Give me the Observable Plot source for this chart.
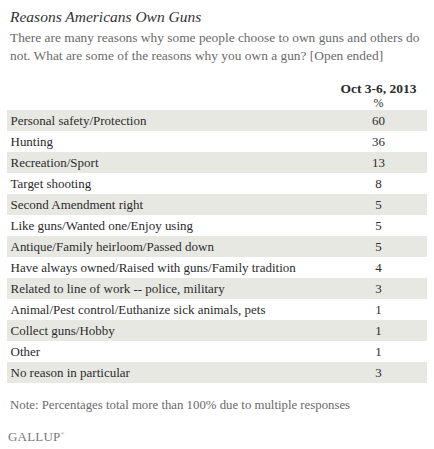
<!DOCTYPE html>
<html>
<head>
<meta charset="utf-8">
<script src="https://cdn.jsdelivr.net/npm/d3@7"></script>
<script src="https://cdn.jsdelivr.net/npm/@observablehq/plot@0.6"></script>
<style>
  body { margin: 0; background: #fff; font-family: "Liberation Serif", "DejaVu Serif", serif; }
  #wrap { position: relative; width: 434px; height: 449px; }
  .title { position: absolute; left: 10px; top: 8px; font-style: italic; font-size: 15.5px; color: #333; }
  .sub { position: absolute; left: 10px; top: 29px; width: 424px; font-size: 13.4px; line-height: 18px; color: #6a6a6a; }
  #chart { position: absolute; left: 0; top: 70px; }
  .note { position: absolute; left: 10px; top: 398px; font-size: 12.8px; color: #6a6a6a; }
  .logo { position: absolute; left: 8px; top: 429px; font-size: 13px; color: #777; letter-spacing: 0.2px; }
  .logo sup { font-size: 5px; vertical-align: 6px; }
</style>
</head>
<body>
<div id="wrap">
  <div class="title">Reasons Americans Own Guns</div>
  <div class="sub">There are many reasons why some people choose to own guns and others do not. What are some of the reasons why you own a gun? [Open ended]</div>
  <div id="chart"></div>
  <div class="note">Note: Percentages total more than 100% due to multiple responses</div>
  <div class="logo">GALLUP<sup>®</sup></div>
</div>
<script>
// Table rows: reason and share of gun owners (%), Oct 3-6, 2013
const reasons = [
  "Personal safety/Protection",
  "Hunting",
  "Recreation/Sport",
  "Target shooting",
  "Second Amendment right",
  "Like guns/Wanted one/Enjoy using",
  "Antique/Family heirloom/Passed down",
  "Have always owned/Raised with guns/Family tradition",
  "Related to line of work -- police, military",
  "Animal/Pest control/Euthanize sick animals, pets",
  "Collect guns/Hobby",
  "Other",
  "No reason in particular"
];
const pct = [60, 36, 13, 8, 5, 5, 5, 4, 3, 1, 1, 1, 3];
const columnHeader = "Oct 3-6, 2013";
const unitHeader = "%";

const rows = reasons.map((r, i) => ({ reason: r, pct: pct[i], i }));
const shaded = rows.filter((d) => d.i % 2 === 0); // every other row gets the grey band

const rowH = 21.1;
const fig = Plot.plot({
  width: 434,
  height: 39 + rowH * reasons.length,
  marginTop: 39,
  marginBottom: 0,
  marginLeft: 7,
  marginRight: 7,
  style: { fontFamily: "'Liberation Serif', 'DejaVu Serif', serif", background: "transparent" },
  y: { domain: reasons, axis: null, padding: 0 },
  marks: [
    Plot.cell(shaded, { y: "reason", fill: "#e8e8e3" }),
    Plot.text(rows, { y: "reason", text: "reason", frameAnchor: "left", textAnchor: "start", dx: 3, fontSize: 13, fill: "#2b2b2b" }),
    Plot.text(rows, { y: "reason", text: (d) => String(d.pct), frameAnchor: "right", textAnchor: "middle", dx: -49, fontSize: 13, fill: "#2b2b2b" }),
    // column header sits in the top margin, above the first row
    Plot.text([columnHeader], { frameAnchor: "top-right", textAnchor: "middle", lineAnchor: "middle", dx: -49, dy: -21, fontSize: 13.5, fontWeight: "bold", fill: "#2b2b2b" }),
    Plot.text([unitHeader], { frameAnchor: "top-right", textAnchor: "middle", lineAnchor: "middle", dx: -49, dy: -6, fontSize: 12, fill: "#2b2b2b" })
  ]
});
document.getElementById("chart").append(fig);
</script>
</body>
</html>
